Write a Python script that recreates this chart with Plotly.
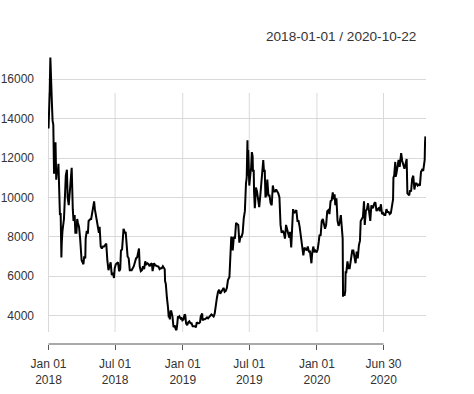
import plotly.graph_objects as go

dates = [
 "2018-01-01","2018-01-02","2018-01-04","2018-01-06","2018-01-07","2018-01-08","2018-01-10","2018-01-12","2018-01-14","2018-01-16",
 "2018-01-17","2018-01-18","2018-01-20","2018-01-22","2018-01-24","2018-01-26","2018-01-28","2018-01-30","2018-02-01","2018-02-03",
 "2018-02-05","2018-02-06","2018-02-08","2018-02-10","2018-02-12","2018-02-15","2018-02-17","2018-02-20","2018-02-22","2018-02-25",
 "2018-02-28","2018-03-03","2018-03-05","2018-03-08","2018-03-10","2018-03-13","2018-03-15","2018-03-18","2018-03-20","2018-03-22",
 "2018-03-25","2018-03-28","2018-03-31","2018-04-01","2018-04-06","2018-04-08","2018-04-11","2018-04-12","2018-04-15","2018-04-18",
 "2018-04-20","2018-04-23","2018-04-25","2018-04-27","2018-04-30","2018-05-03","2018-05-05","2018-05-07","2018-05-10","2018-05-13",
 "2018-05-15","2018-05-18","2018-05-20","2018-05-23","2018-05-26","2018-05-29","2018-06-01","2018-06-04","2018-06-07","2018-06-10",
 "2018-06-13","2018-06-16","2018-06-19","2018-06-22","2018-06-24","2018-06-26","2018-06-28","2018-06-30","2018-07-03","2018-07-06",
 "2018-07-09","2018-07-12","2018-07-15","2018-07-17","2018-07-20","2018-07-24","2018-07-26","2018-07-28","2018-07-30","2018-08-01",
 "2018-08-04","2018-08-07","2018-08-10","2018-08-13","2018-08-15","2018-08-18","2018-08-21","2018-08-24","2018-08-27","2018-08-30",
 "2018-09-03","2018-09-04","2018-09-06","2018-09-09","2018-09-12","2018-09-15","2018-09-18","2018-09-21","2018-09-24","2018-09-27",
 "2018-09-30","2018-10-03","2018-10-06","2018-10-09","2018-10-11","2018-10-15","2018-10-18","2018-10-21","2018-10-24","2018-10-27",
 "2018-10-30","2018-11-02","2018-11-05","2018-11-08","2018-11-11","2018-11-13","2018-11-14","2018-11-16","2018-11-19","2018-11-20",
 "2018-11-22","2018-11-24","2018-11-25","2018-11-27","2018-11-29","2018-12-01","2018-12-04","2018-12-07","2018-12-10","2018-12-13",
 "2018-12-15","2018-12-17","2018-12-19","2018-12-21","2018-12-23","2018-12-26","2018-12-28","2018-12-31",
 "2019-01-03","2019-01-06","2019-01-08","2019-01-10","2019-01-13","2019-01-16","2019-01-19","2019-01-22","2019-01-25","2019-01-28",
 "2019-01-31","2019-02-03","2019-02-06","2019-02-08","2019-02-11","2019-02-14","2019-02-17","2019-02-19","2019-02-23","2019-02-24",
 "2019-02-27","2019-03-02","2019-03-05","2019-03-08","2019-03-11","2019-03-14","2019-03-17","2019-03-20","2019-03-23","2019-03-26",
 "2019-03-29","2019-04-02","2019-04-04","2019-04-07","2019-04-10","2019-04-13","2019-04-16","2019-04-19","2019-04-22","2019-04-25",
 "2019-04-28","2019-05-01","2019-05-04","2019-05-08","2019-05-11","2019-05-13","2019-05-14","2019-05-16","2019-05-17","2019-05-20",
 "2019-05-23","2019-05-26","2019-05-29","2019-06-01","2019-06-04","2019-06-07","2019-06-10","2019-06-13","2019-06-16","2019-06-19",
 "2019-06-22","2019-06-24","2019-06-26","2019-06-27","2019-06-28","2019-06-29","2019-07-01","2019-07-02","2019-07-04","2019-07-06",
 "2019-07-08","2019-07-10","2019-07-11","2019-07-13","2019-07-14","2019-07-16","2019-07-17","2019-07-19","2019-07-22","2019-07-25",
 "2019-07-28","2019-07-31","2019-08-03","2019-08-06","2019-08-08","2019-08-10","2019-08-12","2019-08-14","2019-08-17","2019-08-19",
 "2019-08-22","2019-08-25","2019-08-28","2019-08-31","2019-09-03","2019-09-06","2019-09-09","2019-09-12","2019-09-15","2019-09-18",
 "2019-09-21","2019-09-24","2019-09-27","2019-09-30","2019-10-03","2019-10-06","2019-10-09","2019-10-12","2019-10-15","2019-10-18",
 "2019-10-20","2019-10-23","2019-10-25","2019-10-26","2019-10-28","2019-10-31","2019-11-03","2019-11-06","2019-11-09","2019-11-12",
 "2019-11-15","2019-11-18","2019-11-21","2019-11-23","2019-11-25","2019-11-28","2019-12-01","2019-12-04","2019-12-07","2019-12-10",
 "2019-12-13","2019-12-16","2019-12-17","2019-12-19","2019-12-22","2019-12-25","2019-12-28","2019-12-31",
 "2020-01-03","2020-01-06","2020-01-08","2020-01-11","2020-01-14","2020-01-17","2020-01-20","2020-01-23","2020-01-26","2020-01-29",
 "2020-02-01","2020-02-04","2020-02-07","2020-02-10","2020-02-13","2020-02-15","2020-02-18","2020-02-20","2020-02-23","2020-02-26",
 "2020-02-29","2020-03-03","2020-03-06","2020-03-09","2020-03-11","2020-03-12","2020-03-13","2020-03-16","2020-03-18","2020-03-19",
 "2020-03-21","2020-03-24","2020-03-27","2020-03-30","2020-04-02","2020-04-06","2020-04-09","2020-04-12","2020-04-15","2020-04-18",
 "2020-04-21","2020-04-24","2020-04-27","2020-04-29","2020-05-02","2020-05-05","2020-05-08","2020-05-10","2020-05-13","2020-05-16",
 "2020-05-19","2020-05-22","2020-05-25","2020-05-28","2020-05-31","2020-06-02","2020-06-05","2020-06-08","2020-06-11","2020-06-14",
 "2020-06-17","2020-06-20","2020-06-23","2020-06-26","2020-06-29","2020-07-02","2020-07-05","2020-07-08","2020-07-11","2020-07-14",
 "2020-07-17","2020-07-20","2020-07-23","2020-07-26","2020-07-27","2020-07-29","2020-08-01","2020-08-02","2020-08-04","2020-08-07",
 "2020-08-10","2020-08-13","2020-08-16","2020-08-17","2020-08-20","2020-08-23","2020-08-26","2020-08-29","2020-09-01","2020-09-03",
 "2020-09-05","2020-09-08","2020-09-10","2020-09-13","2020-09-16","2020-09-19","2020-09-22","2020-09-25","2020-09-28","2020-10-01",
 "2020-10-04","2020-10-07","2020-10-10","2020-10-13","2020-10-16","2020-10-19","2020-10-20","2020-10-21","2020-10-22",
]

prices = [
 13500,14750,15200,17100,16200,14900,14900,13900,13700,11200,
 11300,11500,12800,10900,11400,11200,11700,10100,9100,9200,
 6950,7700,8300,8600,8900,10200,11100,11400,10000,9600,
 10400,11500,11500,9400,8800,9100,8200,8200,8900,8700,
 8500,7900,6900,6800,6600,7000,6900,7900,8300,8150,
 8800,8900,8900,8900,9250,9700,9800,9400,9000,8700,
 8450,8200,8500,7500,7400,7500,7500,7600,7650,6800,
 6300,6500,6700,6050,6150,6100,5900,6400,6600,6650,
 6700,6250,6350,7300,7350,8400,8200,8200,8200,7600,
 7000,6900,6300,6300,6300,6400,6500,6700,6900,6950,
 7300,7400,6500,6250,6300,6500,6350,6750,6600,6650,
 6600,6500,6600,6650,6250,6650,6550,6500,6500,6480,
 6350,6400,6400,6500,6400,6350,5750,5600,4900,4500,
 4400,3900,4000,3800,4250,4200,3950,3400,3500,3300,
 3250,3550,3950,3900,3950,3850,3900,3750,
 3800,4050,4000,3600,3500,3650,3700,3600,3600,3450,
 3450,3450,3400,3650,3600,3600,3650,3950,4100,3750,
 3800,3800,3850,3900,3850,3900,4000,4050,4000,3950,
 4100,4900,4900,5200,5300,5100,5200,5300,5400,5200,
 5250,5400,5800,5950,6950,8000,7950,7900,7300,8000,
 7900,8700,8650,8600,7700,8000,8000,8200,8950,9300,
 10700,11000,12900,11100,12400,11900,10600,10800,11200,11500,
 12300,12100,11300,11400,10300,9450,9700,10500,10300,9900,
 9500,10100,10800,11500,11900,11300,11400,10000,10200,10900,
 10100,10100,9700,9600,10600,10300,10300,10400,10300,10200,
 10000,8600,8200,8300,8200,7900,8600,8300,8150,7950,
 8250,7450,8700,9250,9400,9200,9300,9350,8800,8800,
 8500,8100,7600,7300,7050,7450,7400,7300,7500,7250,
 7250,6900,6650,7150,7500,7250,7300,7200,
 7350,7750,8100,8050,8800,8900,8650,8400,8600,9300,
 9350,9150,9800,9850,10250,9900,10150,9600,9950,8800,
 8550,8750,9100,7900,7900,4950,5200,5000,5250,6200,
 6200,6750,6400,6400,6800,7300,7300,6900,6650,7250,
 6900,7550,7800,8800,8950,9000,9800,8600,9300,9400,
 9700,9100,8800,9600,9450,9500,9700,9750,9300,9400,
 9450,9300,9650,9150,9200,9100,9100,9400,9250,9250,
 9150,9200,9600,9900,11000,11100,11800,11050,11200,11600,
 11900,11550,11900,12250,11850,11650,11450,11700,11950,10200,
 10150,10100,10350,10300,10950,11100,10400,10700,10700,10600,
 10650,10600,11300,11400,11350,11750,11900,12800,13100,
]

tick_dates = ["2018-01-01","2018-07-01","2019-01-01","2019-07-01","2020-01-01","2020-06-30"]
tick_text = ["Jan 01<br>2018","Jul 01<br>2018","Jan 01<br>2019","Jul 01<br>2019","Jan 01<br>2020","Jun 30<br>2020"]
y_ticks = [4000, 6000, 8000, 10000, 12000, 14000, 16000]
y_text = ["4000", "6000", "8000", "10000", "12000", "14000", "16000"]
title_text = "2018-01-01 / 2020-10-22"

fig = go.Figure()
fig.add_trace(go.Scatter(x=dates, y=prices, mode="lines",
                         line=dict(color="black", width=2), showlegend=False))

shapes = []
for d in tick_dates:
    shapes.append(dict(type="line", xref="x", yref="paper", x0=d, x1=d, y0=0.0415, y1=0.8685,
                       line=dict(color="#d9d9d9", width=1), layer="below"))
shapes.append(dict(type="line", xref="x", yref="paper", x0=tick_dates[0], x1=tick_dates[-1],
                   y0=0, y1=0, line=dict(color="#555555", width=1)))

fig.update_layout(
    width=474, height=394,
    margin=dict(l=48, r=48, t=55, b=50, autoexpand=False),
    paper_bgcolor="white", plot_bgcolor="white",
    font=dict(family="Liberation Sans, Arial, sans-serif", size=12, color="#333333"),
    shapes=shapes,
    annotations=[dict(text=title_text, xref="paper", yref="paper", x=1.0, y=1.0, yshift=19,
                      xanchor="right", yanchor="middle", showarrow=False,
                      font=dict(size=13.6, color="#333333"), xshift=-8)],
    xaxis=dict(range=["2017-12-30 14:00", "2020-10-23 14:00"], type="date", automargin=False,
               tickvals=tick_dates, ticktext=tick_text, showgrid=False, zeroline=False,
               showline=False, ticks="outside", ticklen=5, tickcolor="#555555",
               ticklabelstandoff=4),
    yaxis=dict(range=[2548, 17234], tickvals=y_ticks, ticktext=y_text, showgrid=True,
               gridcolor="#d9d9d9", automargin=False,
               gridwidth=1, zeroline=False, showline=False, ticks="", ticklabelstandoff=13),
)

fig.write_html("out.html")
